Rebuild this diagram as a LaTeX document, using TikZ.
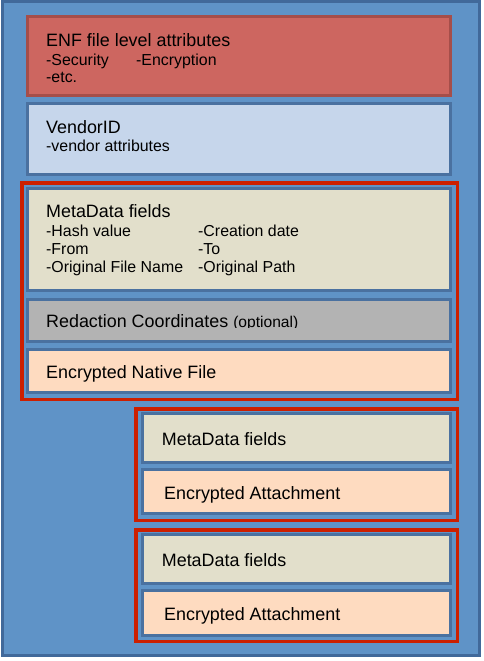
\documentclass[tikz,border=0pt]{standalone}
\usepackage{fontspec}
\setmainfont{Liberation Sans}
\definecolor{outerfill}{RGB}{95,147,199}
\definecolor{outerline}{RGB}{65,105,154}
\definecolor{boxline}{RGB}{74,113,160}
\definecolor{enffill}{RGB}{205,102,96}
\definecolor{enfline}{RGB}{165,78,74}
\definecolor{vendorfill}{RGB}{198,214,235}
\definecolor{metafill}{RGB}{226,223,203}
\definecolor{redfill}{RGB}{179,179,179}
\definecolor{encfill}{RGB}{254,219,192}
\definecolor{groupred}{RGB}{204,31,0}
\tikzset{
  box/.style={draw=boxline, line width=3pt, inner sep=0pt, outer sep=0pt},
  groupbox/.style={draw=groupred, line width=3.5pt},
  maintxt/.style={anchor=base west, inner sep=0pt, font=\fontsize{17.9}{20}\selectfont},
  subtxt/.style={anchor=base west, inner sep=0pt, font=\fontsize{15.9}{18}\selectfont},
}
\begin{document}
\begin{tikzpicture}[x=1pt,y=-1pt]
\useasboundingbox (0,0) rectangle (483,661);
\fill[white] (0,0) rectangle (483,661);
% outer container
\draw[fill=outerfill, draw=outerline, line width=3pt] (2.5,1.5) rectangle (479.5,655.5);
% ENF
\path[box, fill=enffill, draw=enfline] (27.5,16.5) rectangle (450.5,95.5);
\node[maintxt] (enft) at (46,46.7) {ENF file level attributes};
\node[subtxt] (enfa) at (46,65.7) {-Security};
\node[subtxt] (enfb) at (136,65.7) {-Encryption};
\node[subtxt] (enfc) at (46,82.7) {-etc.};
% Vendor
\path[box, fill=vendorfill] (27.5,103.5) rectangle (450.5,174.5);
\node[maintxt] (vt) at (46,133.3) {VendorID};
\node[subtxt] (va) at (46,151.7) {-vendor attributes};
% group 1
\path[box, fill=metafill] (27.5,188.5) rectangle (450.5,290.5);
\node[maintxt] (m1t) at (46,217.7) {MetaData fields};
\node[subtxt] (m1a) at (46,236.7) {-Hash value};
\node[subtxt] (m1b) at (198,236.7) {-Creation date};
\node[subtxt] (m1c) at (46,254.3) {-From};
\node[subtxt] (m1d) at (198,254.3) {-To};
\node[subtxt] (m1e) at (46,272.3) {-Original File Name};
\node[subtxt] (m1f) at (198,272.3) {-Original Path};
\path[box, fill=redfill] (27.5,299.5) rectangle (450.5,341.5);
\begin{scope}
\clip (29,301) rectangle (449,327.6);
\node[maintxt] (rt) at (46,327.3) {Redaction Coordinates \fontsize{15.6}{18}\selectfont(optional)};
\end{scope}
\path[box, fill=encfill] (27.5,349.5) rectangle (450.5,392.5);
\node[maintxt] (nt) at (46,378.3) {Encrypted Native File};
\path[groupbox] (21.75,182.75) rectangle (457.25,399.25);
% group 2
\path[box, fill=metafill] (142.5,413.5) rectangle (450.5,462.5);
\node[maintxt] (m2t) at (161.7,445) {MetaData fields};
\path[box, fill=encfill] (142.5,469.5) rectangle (450.5,513.5);
\node[maintxt] (a2t) at (164,499) {Encrypted Attachment};
\path[groupbox] (135.75,408.75) rectangle (457.25,520.25);
% group 3
\path[box, fill=metafill] (142.5,534.5) rectangle (450.5,583.5);
\node[maintxt] (m3t) at (161.7,566.7) {MetaData fields};
\path[box, fill=encfill] (142.5,590.5) rectangle (450.5,635.5);
\node[maintxt] (a3t) at (164,620) {Encrypted Attachment};
\path[groupbox] (135.75,529.75) rectangle (457.25,641.25);
\end{tikzpicture}
\end{document}
